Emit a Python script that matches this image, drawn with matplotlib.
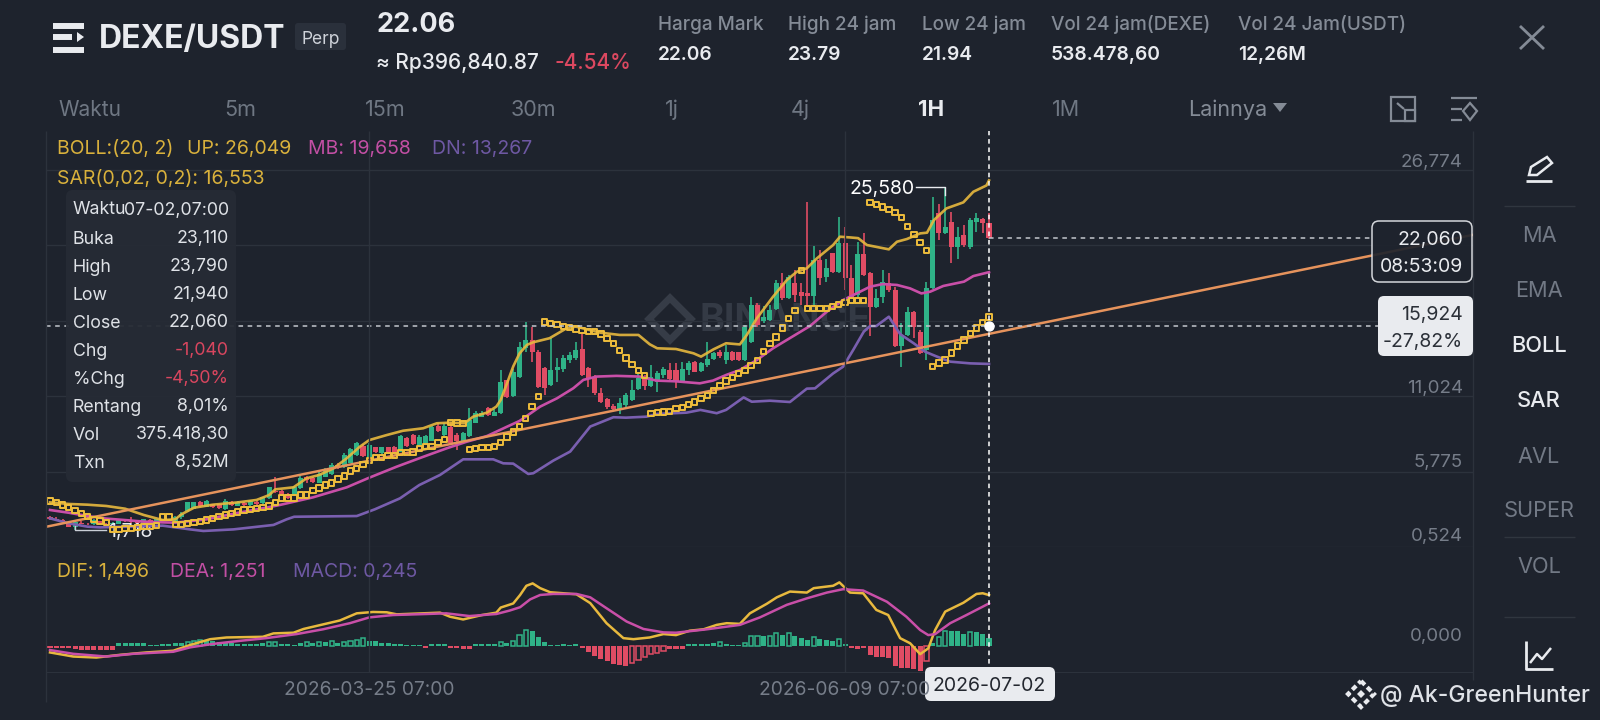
import matplotlib
matplotlib.use("Agg")
import matplotlib.pyplot as plt
from matplotlib.patches import FancyBboxPatch, Polygon, Rectangle

plt.rcParams['font.family'] = ['Inter', 'DejaVu Sans']

# candles, 1D, oldest first
opens = [2.60,2.50,2.40,2.20,1.95,2.20,2.15,2.10,2.30,2.15,
         2.10,2.15,2.35,2.30,2.25,2.20,2.40,2.35,2.45,2.40,
         2.35,2.60,3.00,3.20,3.63,3.33,3.50,3.50,3.15,3.66,
         3.40,3.61,3.47,3.68,3.61,3.91,4.45,4.45,4.20,4.15,
         4.61,5.38,5.31,5.00,5.42,5.61,6.23,6.12,6.40,6.93,
         7.58,6.77,7.46,7.05,7.46,7.51,7.16,8.09,8.32,7.63,
         7.79,7.93,8.95,8.32,8.90,8.32,7.93,8.25,9.18,9.60,
         10.18,9.67,9.88,12.16,11.04,12.39,14.36,14.94,14.13,12.97,
         11.81,12.85,12.90,13.55,13.66,14.29,13.00,12.39,11.23,10.81,
         10.37,10.16,10.42,10.76,11.51,12.39,11.74,12.04,12.50,12.85,
         12.85,12.11,12.85,13.43,12.81,13.20,13.60,14.08,13.55,14.13,
         14.08,13.54,14.82,17.37,16.28,16.33,17.07,18.88,17.84,18.88,
         18.25,18.18,18.00,20.51,19.35,20.97,19.69,21.67,19.23,18.07,
         20.90,19.58,17.26,17.95,18.88,18.42,14.52,15.28,16.91,15.52,
         14.24,18.53,23.76,22.36,23.17,21.43,22.25,21.43,23.17,23.34,23.11]
closes = [2.50,2.40,2.30,1.95,2.25,2.15,2.10,2.40,2.15,2.10,
          2.20,2.40,2.30,2.25,2.20,2.45,2.35,2.45,2.40,2.35,
          2.60,2.85,3.63,3.63,3.38,3.70,3.29,3.26,3.75,3.45,
          3.68,3.45,3.75,3.50,3.98,4.68,4.35,4.12,3.95,4.68,
          5.31,5.19,5.03,5.61,5.89,6.23,6.00,6.93,7.33,7.74,
          6.86,7.63,7.16,7.46,7.09,7.12,8.28,7.58,7.67,8.21,
          8.25,8.90,8.60,8.95,7.79,7.93,8.44,9.37,9.88,9.88,
          9.72,9.90,12.03,10.95,12.74,14.48,14.94,14.13,11.69,11.58,
          12.85,13.04,13.66,13.90,14.25,12.50,12.27,11.23,10.65,10.25,
          10.16,10.53,11.11,11.46,12.27,11.74,12.39,12.67,12.90,12.20,
          12.04,12.90,13.32,12.74,13.32,13.60,14.06,13.85,14.13,13.55,
          13.55,15.86,17.37,15.98,16.56,17.02,18.88,17.84,19.35,18.07,
          18.00,18.00,20.51,19.23,19.93,19.69,21.67,19.23,17.95,20.90,
          19.46,17.26,17.84,19.00,18.42,14.52,15.28,16.91,15.82,14.01,
          18.53,23.29,22.36,22.83,21.43,22.13,21.55,23.29,23.41,23.11,22.06]
highs = [2.70,2.60,2.45,2.25,2.30,2.30,2.20,2.45,2.35,2.20,
         2.25,2.45,2.40,2.60,2.30,2.50,2.45,2.50,2.50,2.45,
         2.65,2.95,3.65,3.65,3.70,3.80,3.55,3.55,3.85,3.70,
         3.72,3.65,3.80,3.72,4.02,4.72,5.42,4.50,4.25,4.77,
         5.47,5.47,5.42,5.77,6.00,6.35,6.35,7.05,7.44,7.81,
         7.67,7.74,7.51,7.48,7.51,7.58,8.32,8.16,8.39,8.32,
         8.32,8.97,9.14,9.14,9.21,8.49,8.51,10.20,10.00,10.00,
         10.30,10.11,12.85,12.16,12.90,14.83,16.22,15.87,14.25,13.08,
         15.06,13.66,13.90,14.13,14.83,15.52,13.04,12.50,11.58,10.88,
         10.48,10.88,11.23,12.16,12.74,12.50,13.20,12.81,13.08,13.32,
         13.32,13.43,13.48,13.50,13.43,14.83,14.13,14.25,14.60,14.20,
         14.13,15.98,17.95,17.54,17.30,17.37,19.11,19.58,19.46,19.81,
         18.88,24.57,21.48,21.20,20.55,21.02,23.52,22.78,20.16,21.78,
         22.36,19.69,18.46,19.81,19.58,18.65,16.10,17.21,16.98,15.63,
         19.00,24.87,24.41,25.58,23.87,22.78,22.94,23.41,23.80,23.41,23.79]
lows = [2.40,2.35,2.25,1.90,1.72,2.10,2.05,2.05,2.10,2.05,
        2.05,2.10,2.25,2.20,2.15,2.15,2.30,2.30,2.35,2.30,
        2.30,2.50,2.95,3.15,3.30,3.30,3.25,3.20,3.10,3.40,
        3.35,3.40,3.40,3.45,3.55,3.85,4.30,4.05,3.90,4.10,
        4.54,4.96,4.96,4.96,5.38,5.54,5.95,6.05,6.35,6.88,
        6.81,6.70,7.09,6.93,7.05,7.09,7.12,7.51,7.63,7.56,
        7.74,7.88,8.55,8.25,7.74,7.28,7.88,8.21,9.14,9.55,
        9.67,9.62,9.80,10.90,11.00,12.27,14.13,13.43,11.58,11.11,
        11.74,12.04,12.74,13.36,13.55,12.46,11.65,11.11,10.53,10.16,
        10.07,9.79,10.18,10.72,11.46,11.46,11.65,11.34,12.27,12.11,
        11.58,12.04,12.50,12.69,12.69,13.08,13.55,13.66,13.27,13.48,
        13.50,13.50,14.70,15.82,16.10,16.28,17.02,17.72,17.80,17.61,
        17.37,17.21,17.30,18.77,19.00,19.58,19.62,18.42,17.84,17.95,
        19.39,15.21,17.14,17.49,18.30,14.47,13.08,15.21,15.05,13.96,
        13.54,18.46,21.90,22.32,20.32,20.55,21.43,21.25,22.48,22.36,21.94]

sar = [3.73,3.64,3.45,3.26,3.05,2.84,2.63,2.45,2.33,2.24,
       1.76,1.76,1.80,1.83,1.90,1.94,1.94,2.01,2.61,2.61,
       2.11,2.11,2.15,2.24,2.31,2.40,2.49,2.63,2.75,2.84,
       2.96,3.10,3.15,3.19,3.29,3.38,3.61,3.94,3.94,3.94,
       4.14,4.14,4.44,4.63,4.84,4.98,5.26,5.47,5.82,6.00,
       6.25,6.53,6.77,6.77,6.88,6.91,7.09,7.09,7.14,7.37,
       7.51,7.51,7.81,8.00,9.21,9.16,9.14,7.33,7.37,7.44,
       7.47,7.54,7.79,8.18,8.53,8.90,9.49,10.29,11.02,16.19,
       16.10,16.00,15.89,15.79,15.70,15.61,15.52,15.52,15.35,15.06,
       14.68,14.22,13.68,13.22,12.80,12.45,9.83,9.88,9.92,9.97,
       10.15,10.25,10.43,10.62,10.85,11.09,11.44,11.76,12.08,12.33,
       12.59,12.83,13.18,13.52,14.15,14.68,15.15,15.77,16.45,17.01,
       19.79,17.12,17.12,17.12,17.12,17.28,17.40,17.53,17.67,17.70,
       17.70,24.53,24.39,24.20,24.01,23.83,23.45,22.83,22.27,21.71,
       21.18,13.08,13.34,13.54,14.03,14.52,14.94,15.38,15.77,16.17,16.55]

# bollinger bands, read at the bends
up_x = [0,3,6,9,12,15,18,20,21,23,26,30,33,35,36,38.9,41,43,45.3,47.4,49.5,51,53.8,56.4,
        59.6,61.8,63.9,66.2,67.6,69.8,71.3,72,73,74,75,76.2,77.2,79.8,82.5,84,87.9,91,94,
        95.8,97,100,102.8,104,106,108,110.2,111.3,112.9,115.5,117.7,119.3,120.9,122.5,
        125.1,126.2,127.8,129.1,130.5,134,135.3,136.9,139,140.1,141.2,143.2,145.9,147.5,149.6,150]
up = [3.63,3.52,3.47,3.38,3.19,2.75,2.40,2.45,2.80,3.26,3.47,3.63,3.80,4.14,4.54,4.68,5.31,
      5.54,6.00,6.70,7.51,7.97,8.32,8.62,8.79,9.14,9.18,9.14,9.60,9.88,10.30,10.76,11.92,
      13.10,14.00,14.60,14.78,15.06,15.75,15.87,15.45,15.29,15.29,14.64,14.36,14.31,14.01,
      13.78,14.29,14.71,14.63,15.28,16.44,17.95,19.11,19.69,19.93,20.62,21.55,22.13,22.08,
      22.03,21.55,21.25,21.78,21.97,22.36,22.41,23.29,24.10,24.52,25.26,25.70,26.05]
mb_x = [0,3,6,9,12,15,18,20,25,30,35,36.7,42,47.4,51,55.4,59.6,63.4,66.6,69.8,73,75,76,78.3,
        81,83.6,85.2,87.3,90.5,94.2,96.9,100,103.8,105.9,108,110.2,112.9,115.5,119,121.4,
        124.1,126.7,129.4,131,133,135.3,137.4,139.2,140.6,142.7,146,147.5,150]
mb = [3.10,2.91,2.68,2.50,2.40,2.29,2.24,2.22,2.45,2.90,3.30,3.45,3.98,4.68,5.35,6.12,6.80,
      7.40,7.86,8.25,8.90,9.30,9.60,10.30,10.88,11.58,12.16,12.39,12.44,12.39,12.11,12.06,
      11.92,12.11,12.50,12.85,13.54,14.36,15.28,15.91,16.91,17.72,18.30,18.65,18.83,18.77,
      18.53,18.18,18.30,18.70,19.00,19.39,19.66]
dn_x = [0,3,6,8,18,22.4,24.5,29.3,35.7,37.8,39,49,51.9,55.9,59,62.3,66,68.7,70.8,72.4,74,
        76.4,77.2,80.4,83.1,86.3,90,92,95.3,97,101.7,103.9,106.5,108,110.8,112.1,115,118.2,
        120.9,122.2,125.1,126.7,128.3,130,131,132,134,135.8,138,139.8,141.7,143.8,147,150]
dn = [2.52,2.17,1.94,1.89,2.01,1.75,1.64,1.75,2.06,2.45,2.63,2.68,3.15,3.91,4.84,5.54,6.63,
      6.63,6.63,6.35,6.33,5.61,5.66,6.54,7.17,8.91,9.56,9.53,9.60,9.79,9.88,10.07,9.84,10.07,
      10.94,10.64,10.71,10.62,11.55,11.57,12.61,13.08,14.24,15.52,15.91,15.91,16.56,15.35,
      14.70,14.12,13.78,13.43,13.31,13.27]

# hand drawn trend line ends
trend_x = [-0.53, 227.2]
trend_y = [1.94, 22.25]

# macd panel
dif_x = [0,3.7,7.4,11.2,15.4,19.7,22.4,25.6,28.2,34,35.7,38.9,40.5,46.3,49,51.6,53.8,55.4,62.3,
         63.9,66,69,71.3,72,74,75.1,76.1,77.1,78.3,79.9,84.1,86.3,88.9,91.6,93.2,95.8,98,100,
         102.2,104.4,106.5,108.1,110.2,111.8,114.5,116.1,118.2,120.9,122,125.1,126.1,127.8,
         129.9,132,133.9,135.8,137.4,139,140.3,141.4,143,145.9,148,149,150]
dif = [-0.19,-0.31,-0.34,-0.26,-0.19,-0.14,0.03,0.20,0.25,0.27,0.37,0.39,0.50,0.75,0.96,1.00,
       0.99,0.93,0.98,0.86,0.78,0.91,0.98,1.13,1.25,1.50,1.77,1.84,1.70,1.58,1.52,1.26,0.67,
       0.23,0.20,0.25,0.35,0.32,0.45,0.49,0.62,0.67,0.65,0.96,1.24,1.43,1.60,1.57,1.70,1.77,
       1.87,1.57,1.55,1.06,0.91,0.23,0.08,-0.24,-0.07,0.47,1.01,1.27,1.53,1.55,1.496]
dea_x = [0,3.7,9,13.3,19.7,22.4,26,30.3,34.5,39.4,43.6,47.9,51,54.8,60.1,63.3,67,71.3,73.4,75.1,
         76.7,78.3,80.4,84.1,86.3,88.9,92.1,94.8,98,100,104.9,110.2,113.4,117.7,120.9,124.1,
         126.7,129.9,133.7,136.8,139,140.3,141.4,143.8,146.4,150]
dea = [-0.12,-0.23,-0.31,-0.23,-0.17,-0.04,0.06,0.15,0.23,0.35,0.49,0.67,0.84,0.91,0.94,0.96,
       0.88,0.94,1.04,1.14,1.37,1.50,1.53,1.53,1.43,1.11,0.72,0.50,0.40,0.39,0.49,0.62,0.84,
       1.21,1.40,1.57,1.67,1.63,1.30,0.86,0.47,0.32,0.35,0.67,0.91,1.251]
hist = [-0.05,-0.05,-0.05,-0.06,-0.09,-0.12,-0.12,-0.12,-0.12,-0.12,
        -0.12,0.09,0.09,0.09,0.09,0.09,0.02,0.03,0.07,0.07,
        0.08,0.09,0.12,0.15,0.18,0.17,0.14,0.11,0.09,0.08,
        0.07,0.07,0.06,0.05,0.09,0.11,0.13,0.06,0.05,0.04,
        0.08,0.12,0.10,0.12,0.11,0.14,0.10,0.13,0.16,0.19,
        0.23,0.16,0.15,0.10,0.08,0.06,0.05,0.03,0.03,0.03,
        -0.06,0.07,0.06,0.06,-0.06,-0.06,-0.08,-0.08,0.07,0.07,
        0.07,0.07,0.12,0.10,0.16,0.32,0.47,0.45,0.27,0.11,
        0.04,0.04,0.06,0.04,0.06,-0.07,-0.17,-0.30,-0.38,-0.45,
        -0.52,-0.57,-0.58,-0.50,-0.40,-0.33,-0.25,-0.20,-0.14,-0.08,
        -0.08,-0.09,0.05,0.05,0.05,0.06,0.09,0.12,0.06,0.03,
        0.03,0.10,0.28,0.29,0.29,0.30,0.37,0.33,0.38,0.30,
        0.22,0.18,0.26,0.20,0.17,0.14,0.20,0.05,-0.05,-0.08,
        -0.05,-0.27,-0.33,-0.33,-0.35,-0.60,-0.65,-0.65,-0.68,-0.73,
        -0.45,0.08,0.25,0.43,0.43,0.43,0.35,0.42,0.40,0.35,0.245]

grid_main = [0.524, 5.775, 11.024, 16.274, 21.524, 26.774]
price_ticks = ["0,524", "5,775", "11,024", "26,774"]
price_tick_px = [535, 462, 387, 161]

tooltip_rows = [("Waktu", "07-02,07:00"), ("Buka", "23,110"), ("High", "23,790"), ("Low", "21,940"),
                ("Close", "22,060"), ("Chg", "-1,040"), ("%Chg", "-4,50%"), ("Rentang", "8,01%"),
                ("Vol", "375.418,30"), ("Txn", "8,52M")]
tooltip_y = [209, 238, 266, 294, 322, 350, 378, 406, 434, 462]
stats = [(658, "Harga Mark", "22.06"), (788, "High 24 jam", "23.79"), (922, "Low 24 jam", "21.94"),
         (1051, "Vol 24 jam(DEXE)", "538.478,60"), (1238, "Vol 24 Jam(USDT)", "12,26M")]
tabs = [(240, "5m"), (385, "15m"), (533, "30m"), (672, "1j"), (800, "4j"), (1066, "1M")]
side_items = [(235, "MA", 0), (290, "EMA", 0), (345, "BOLL", 1), (400, "SAR", 1), (456, "AVL", 0),
              (510, "SUPER", 0), (566, "VOL", 0)]

BG = "#1e232d"
GRID = "#2c323c"
GREEN = "#2fb287"
RED = "#e04c64"
YELLOW = "#e8b93e"
PINK = "#c94fa8"
PURPLE = "#7a5fb0"
ORANGE = "#e6935c"
MUTED = "#848b96"
SOFT = "#e9ebef"

W, H = 1600, 720
fig = plt.figure(figsize=(W / 100, H / 100), dpi=100, facecolor=BG)


def rect(l, t, r, b):
    return [l / W, 1 - b / H, (r - l) / W, (b - t) / H]


# background layer for the faint logo
back = fig.add_axes([0, 0, 1, 1], zorder=-1)
back.set_xlim(0, W)
back.set_ylim(H, 0)
back.axis("off")
back.add_patch(Polygon([(670, 298), (691, 319), (670, 340), (649, 319)], closed=True, fill=False,
                       ec="#363c47", lw=5))
back.text(700, 321, "BINANCE", color="#343a45", fontsize=27, weight="bold", va="center")

LEFT_I = (46 - 50) / 6.26
RIGHT_I = (1473 - 50) / 6.26
idx = list(range(len(opens)))

ax = fig.add_axes(rect(46, 131, 1473, 547), facecolor="none")
ax.set_xlim(LEFT_I, RIGHT_I)
ax.set_ylim(0.524, 29.49)
ax.set_xticks([])
ax.set_yticks(grid_main)
ax.tick_params(length=0, labelleft=False)
ax.grid(axis="y", color=GRID, lw=1)
for s in ax.spines.values():
    s.set_visible(False)

for i in idx:
    col = GREEN if closes[i] >= opens[i] else RED
    ax.vlines(i, lows[i], highs[i], color=col, lw=1.2, zorder=2)
    ax.bar(i, abs(closes[i] - opens[i]), bottom=min(opens[i], closes[i]), width=0.8, color=col, zorder=2)

ax.plot(up_x, up, color=YELLOW, lw=1.9, alpha=0.9, zorder=3)
ax.plot(mb_x, mb, color=PINK, lw=1.9, zorder=3)
ax.plot(dn_x, dn, color=PURPLE, lw=1.9, zorder=3)
ax.plot(trend_x, trend_y, color=ORANGE, lw=1.8, zorder=4)
ax.text(9.3, 1.55, "1,718", color=SOFT, fontsize=14, va="center", zorder=2.5)
ax.plot([4, 4, 9], [2.0, 1.718, 1.718], color="#c9ced6", lw=1, zorder=2.5)
ax.scatter(idx, sar, marker="s", s=15, facecolors="none", edgecolors="#eebd3c", linewidths=1.4, zorder=5)

ax.plot([143, 143, 138.3], [25.0, 25.58, 25.58], color=SOFT, lw=1, zorder=6)
ax.text(138.1, 25.45, "25,580", color="white", fontsize=14, ha="right", va="center", zorder=6)

ax.axhline(15.924, xmax=(1378 - 46) / (1473 - 46), color="#c3c7cd", lw=1.1, ls=(0, (3, 3)), zorder=6)
ax.plot([150, (1372 - 50) / 6.26], [22.06, 22.06], color="#c3c7cd", lw=1.1, ls=(0, (3, 3)), zorder=6)
ax.axvline(150, color="white", lw=1.1, ls=(0, (3, 2.5)), zorder=6)
ax.scatter([150], [15.924], s=42, color="white", zorder=7)

# macd
ax2 = fig.add_axes(rect(46, 547, 1473, 672), facecolor="none")
ax2.set_xlim(LEFT_I, RIGHT_I)
ax2.set_ylim(-0.765, 2.91)
ax2.set_xticks([])
ax2.set_yticks([])
for k, s in ax2.spines.items():
    s.set_visible(k == "bottom")
    s.set_color(GRID)

for i in idx:
    col = GREEN if hist[i] >= 0 else RED
    rising = i > 0 and hist[i] > hist[i - 1]
    if rising and abs(hist[i]) > 0.09:
        ax2.bar(i, hist[i], width=0.68, facecolor="none", edgecolor=col, lw=1.1, zorder=2)
    else:
        ax2.bar(i, hist[i], width=0.8, color=col, zorder=2)
ax2.plot(dif_x, dif, color=YELLOW, lw=1.8, zorder=3)
ax2.plot(dea_x, dea, color=PINK, lw=1.8, zorder=3)
ax2.axvline(150, color="white", lw=1.1, ls=(0, (3, 2.5)), zorder=6)

# everything else sits on a pixel layer above the charts
ui = fig.add_axes([0, 0, 1, 1], zorder=5, facecolor="none")
ui.set_xlim(0, W)
ui.set_ylim(H, 0)
ui.axis("off")


def txt(x, y, s, size=13, color="white", ha="left", weight="normal"):
    ui.text(x, y + 2, s, fontsize=size, color=color, ha=ha, va="center", fontweight=weight, zorder=10)


def box(l, t, r, b, fc, ec="none", lw=0, alpha=1, rad=6, z=6):
    ui.add_patch(FancyBboxPatch((l + rad, t + rad), r - l - 2 * rad, b - t - 2 * rad,
                                boxstyle="round,pad=%d,rounding_size=%d" % (rad, rad),
                                fc=fc, ec=ec, lw=lw, alpha=alpha, zorder=z))


def seg(xs, ys, color=GRID, lw=1, z=3, **kw):
    ui.plot(xs, ys, color=color, lw=lw, zorder=z, solid_capstyle="butt", **kw)


# panel frame
seg([46, 46], [131, 702])
seg([369, 369], [131, 672])
seg([845, 845], [131, 672])
seg([1473, 1473], [131, 680])

# header
for y, end in ((26, 84), (37, 72), (50, 84)):
    seg([53, end], [y, y], color=SOFT, lw=4.3)
ui.add_patch(Polygon([(77, 32), (84, 37), (77, 42)], closed=True, fc=SOFT, ec="none", zorder=5))
txt(99, 38, "DEXE/USDT", 23, SOFT, weight="bold")
box(295, 23, 346, 50, "#2a303b", rad=3)
txt(320.5, 37, "Perp", 12.5, "#cfd3da", ha="center")
txt(376, 23, "22.06", 19.5, SOFT, weight="bold")
txt(376, 61, "\u2248 Rp396,840.87", 15, SOFT, weight="medium")
txt(554, 61, "-4.54%", 15, "#dc4860", weight="medium")
for x, a, b in stats:
    txt(x, 23, a, 13.6, MUTED, weight="medium")
    txt(x, 53, b, 13.8, SOFT, weight="semibold")
seg([1520, 1544], [26, 49], color=MUTED, lw=2)
seg([1544, 1520], [26, 49], color=MUTED, lw=2)

# interval tabs
txt(58, 108, "Waktu", 15, "#6f7783")
for x, s in tabs:
    txt(x, 108, s, 15.5, "#6f7783", ha="center")
txt(931, 108, "1H", 16, SOFT, ha="center", weight="bold")
txt(1188, 108, "Lainnya", 15.5, MUTED)
ui.add_patch(Polygon([(1273, 103), (1287, 103), (1280, 112)], closed=True, fc=MUTED, ec="none"))
ui.add_patch(Rectangle((1391, 97), 24, 24, fill=False, ec=MUTED, lw=1.6))
ui.add_patch(Rectangle((1405, 110), 10, 11, fc=BG, ec=MUTED, lw=1.6))
seg([1397, 1404], [103, 109], color=MUTED, lw=1.6)
seg([1451, 1477], [98, 98], color=MUTED, lw=1.6)
seg([1451, 1462], [109, 109], color=MUTED, lw=1.6)
seg([1451, 1462], [120, 120], color=MUTED, lw=1.6)
ui.add_patch(Polygon([(1470, 103), (1477, 111), (1470, 120), (1463, 111)], closed=True, fill=False, ec=MUTED, lw=1.6))

# indicator legends
DIM_Y = "#d9b13c"
DIM_P = "#c24fa4"
DIM_V = "#6e58a3"
txt(57, 147, "BOLL:(20, 2)", 14, DIM_Y)
txt(187, 147, "UP: 26,049", 14, DIM_Y)
txt(308, 147, "MB: 19,658", 14, DIM_P)
txt(432, 147, "DN: 13,267", 14, DIM_V)
txt(57, 177, "SAR(0,02, 0,2): 16,553", 14, DIM_Y)
txt(57, 570, "DIF: 1,496", 14, DIM_Y)
txt(170, 570, "DEA: 1,251", 14, DIM_P)
txt(293, 570, "MACD: 0,245", 14, DIM_V)

# crosshair tooltip
box(66, 190, 236, 482, "#262b35", alpha=0.96, rad=7)
for (name, val), y in zip(tooltip_rows, tooltip_y):
    col = "#d9465f" if val.startswith("-") else "#dfe2e7"
    txt(73, y - 1, name, 12.8, "#dfe2e7")
    txt(229, y - 1, val, 12.8, col, ha="right")

# price axis labels
for s, y in zip(price_ticks, price_tick_px):
    txt(1463, y - 1, s, 13.5, "#767d89", ha="right")
txt(1463, 634, "0,000", 13.5, "#767d89", ha="right")
txt(369, 688, "2026-03-25 07:00", 13.8, "#767d89", ha="center")
txt(845, 688, "2026-06-09 07:00", 13.8, "#767d89", ha="center")

# right-hand price boxes
box(1372, 221, 1472, 282, BG, ec="#e3e5e9", lw=1.1, alpha=0.92, rad=7)
txt(1463, 238, "22,060", 14, SOFT, ha="right")
txt(1463, 265, "08:53:09", 14, SOFT, ha="right")
box(1378, 296, 1473, 356, SOFT, rad=6)
txt(1463, 313, "15,924", 14, "#2b3038", ha="right")
txt(1463, 340, "-27,82%", 14, "#2b3038", ha="right")
box(925, 667, 1055, 701, SOFT, rad=6, z=8)
txt(989, 684, "2026-07-02", 14, "#23272f", ha="center")

# side menu
for y, s, active in side_items:
    if active:
        txt(1539, y - 1, s, 15.7, SOFT, ha="center", weight="medium")
    else:
        txt(1539, y - 1, s, 15.7, "#727985", ha="center")
for y in (206, 537, 617):
    seg([1504, 1575], [y, y], color="#30363f")
ui.add_patch(Polygon([(1529, 175), (1531, 167), (1547, 157), (1552, 163), (1537, 175)], closed=True,
                     fill=False, ec=SOFT, lw=1.8))
seg([1526, 1552], [181, 181], color=SOFT, lw=2)
seg([1526, 1526, 1553], [641, 669, 669], color=SOFT, lw=2)
seg([1530, 1537, 1542, 1551], [663, 654, 659, 648], color=SOFT, lw=1.8)

# watermark
ui.add_patch(Polygon([(1361, 681), (1374, 694), (1361, 707), (1348, 694)], closed=True, fill=False,
                     ec=SOFT, lw=3, ls=(0, (1.3, 0.8)), zorder=9))
ui.add_patch(Polygon([(1361, 690), (1365, 694), (1361, 698), (1357, 694)], closed=True, fc=SOFT, zorder=9))
txt(1380, 694, "@ Ak-GreenHunter", 16.5, "#dfe2e7", weight="medium")

fig.savefig("out.png", dpi=100, facecolor=BG)
